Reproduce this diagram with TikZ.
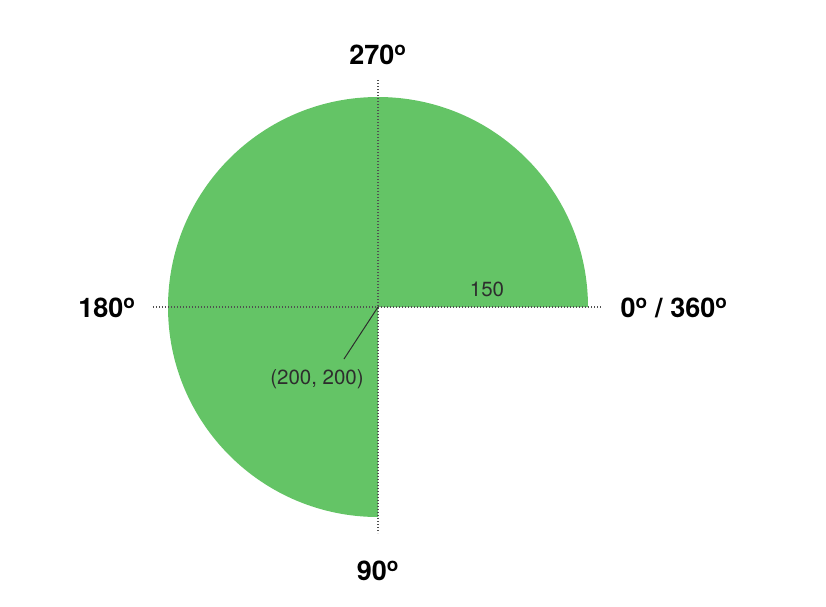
\documentclass[tikz,border=0pt]{standalone}
\usepackage{fontspec}
\setmainfont{TeX Gyre Heros}
\usetikzlibrary{positioning}
\definecolor{sectorgreen}{RGB}{100,196,102}
\definecolor{axisgray}{RGB}{80,80,80}
\definecolor{labelgray}{RGB}{45,45,45}
\begin{document}
\begin{tikzpicture}[x=1pt,y=1pt,
  axis/.style={line width=1.2, color=axisgray, dash pattern=on 1.2pt off 1.8pt},
  angle/.style={font=\fontsize{27}{32}\bfseries\selectfont, inner sep=0},
  small/.style={font=\fontsize{20.5}{24}\selectfont, text=labelgray, inner sep=0}]
\useasboundingbox (-378,-299) rectangle (448,307);
\coordinate (centre) at (0,0);
% three quarters of the disc
\fill[sectorgreen](centre) -- (0:210) arc[start angle=0, end angle=270, radius=210] -- cycle;
% axes
\coordinate (top) at (0,227);
\coordinate (bottom) at (0,-226);
\coordinate (left) at (-225,0);
\coordinate (right) at (223,0);
\draw[axis](top) -- (bottom);
\draw[axis](left) -- (right);
% labels
\node[angle] (a270) at (0,252) {270\textsuperscript{o}};
\node[angle] (a180) at (-271,-1) {180\textsuperscript{o}};
\node[angle] (a0) at (296,-1) {0\textsuperscript{o} / 360\textsuperscript{o}};
\node[angle] (a90) at (0,-264) {90\textsuperscript{o}};
\node[small] (radius) at (109,18) {150};
\node[small] (origin) at (-61,-72) {(200, 200)};
\coordinate (tip) at (-34,-52);
\draw[line width=1, color=labelgray](centre) -- (tip);
\end{tikzpicture}
\end{document}
